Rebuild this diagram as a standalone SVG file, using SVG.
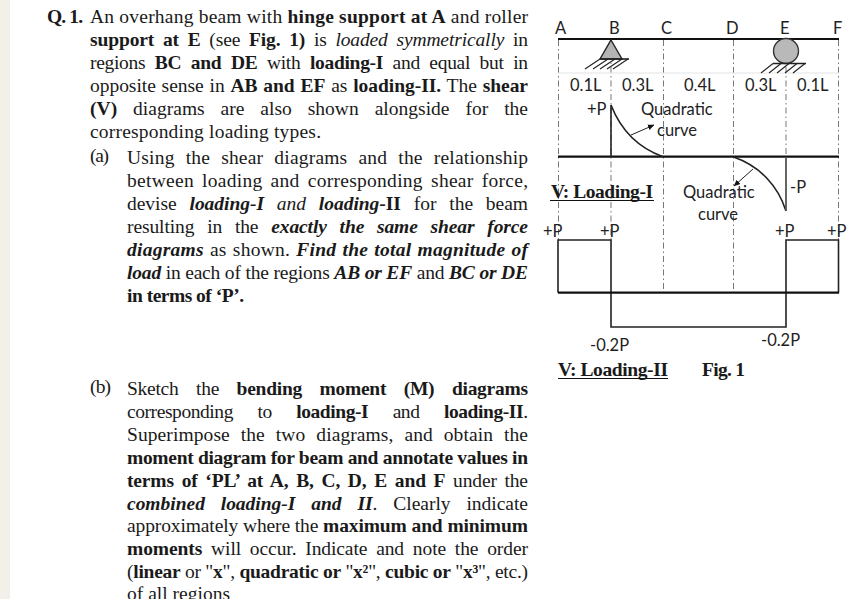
<svg xmlns="http://www.w3.org/2000/svg" width="858" height="599" viewBox="0 0 858 599">
<style>
.t{font-family:"Liberation Serif",serif;font-size:19.5px;fill:#1a1a1a}
.b{font-weight:bold}
.i{font-style:italic}
.s{font-family:Lato,"Liberation Sans",sans-serif;font-size:16.5px;fill:#222}
.h{font-family:"Liberation Serif",serif;font-size:19.5px;font-weight:bold;fill:#1a1a1a}
.guide{fill:none;stroke:#777;stroke-width:1;stroke-dasharray:6 3 1.5 3}
.thick{fill:none;stroke:#111;stroke-width:2.2}
.line{fill:none;stroke:#222;stroke-width:1.6}
.grey{fill:none;stroke:#555;stroke-width:1.8}
.hatch{fill:none;stroke:#222;stroke-width:1.1}
</style>
<defs>
<marker id="ah" viewBox="0 0 8 8" refX="7.5" refY="4" markerWidth="6.5" markerHeight="6.5" orient="auto-start-reverse"><path d="M0 0.5L8 4L0 7.5Z" fill="#111"/></marker>
</defs>
<rect width="858" height="599" fill="#fff"/>
<rect id="margin" width="10" height="599" fill="#f3f0e9"/>

<g id="question-text">
<text class="t b" x="47" y="23" textLength="36">Q. 1.</text>
<text class="t" x="90" y="23" textLength="438">An overhang beam with <tspan class="b">hinge support at A</tspan> and roller</text>
<text class="t" x="90" y="46" textLength="438" word-spacing="4"><tspan class="b">support at E</tspan> (see <tspan class="b">Fig. 1)</tspan> is <tspan class="i">loaded symmetrically</tspan> in</text>
<text class="t" x="90" y="69" textLength="438" word-spacing="5">regions <tspan class="b">BC and DE</tspan> with <tspan class="b">loading-I</tspan> and equal but in</text>
<text class="t" x="90" y="92" textLength="438" word-spacing="1">opposite sense in <tspan class="b">AB and EF</tspan> as <tspan class="b">loading-II.</tspan> The <tspan class="b">shear</tspan></text>
<text class="t" x="90" y="115" textLength="438" word-spacing="11"><tspan class="b">(V)</tspan> diagrams are also shown alongside for the</text>
<text class="t" x="90" y="138" textLength="231">corresponding loading types.</text>
<text class="t" x="90" y="162" textLength="19">(a)</text>
<text class="t" x="127" y="164" textLength="401" word-spacing="6">Using the shear diagrams and the relationship</text>
<text class="t" x="127" y="187" textLength="401" word-spacing="3">between loading and corresponding shear force,</text>
<text class="t" x="127" y="210" textLength="401" word-spacing="8">devise <tspan class="b i">loading-I</tspan> <tspan class="i">and</tspan> <tspan class="b i">loading</tspan><tspan class="b">-II</tspan> for the beam</text>
<text class="t" x="127" y="233" textLength="401" word-spacing="8">resulting in the <tspan class="b i">exactly the same shear force</tspan></text>
<text class="t" x="127" y="256" textLength="401" word-spacing="1"><tspan class="b i">diagrams</tspan> as shown. <tspan class="b i">Find the total magnitude of</tspan></text>
<text class="t" x="127" y="279" textLength="401"><tspan class="b i">load</tspan> in each of the regions <tspan class="b i">AB or EF</tspan> and <tspan class="b i">BC or DE</tspan></text>
<text class="t b" x="127" y="302" textLength="117">in terms of ‘P’.</text>
<text class="t" x="90" y="393" textLength="21">(b)</text>
<text class="t" x="127" y="395" textLength="401" word-spacing="13">Sketch the <tspan class="b">bending moment (M) diagrams</tspan></text>
<text class="t" x="127" y="418" textLength="401" word-spacing="20">corresponding to <tspan class="b">loading-I</tspan> and <tspan class="b">loading-II</tspan>.</text>
<text class="t" x="127" y="441" textLength="401" word-spacing="6">Superimpose the two diagrams, and obtain the</text>
<text class="t b" x="127" y="464" textLength="401">moment diagram for beam and annotate values in</text>
<text class="t" x="127" y="487" textLength="401" word-spacing="3"><tspan class="b">terms of ‘PL’ at A, B, C, D, E and F</tspan> under the</text>
<text class="t" x="127" y="510" textLength="401" word-spacing="11"><tspan class="b i">combined loading-I and II</tspan>. Clearly indicate</text>
<text class="t" x="127" y="532" textLength="401">approximately where the <tspan class="b">maximum and minimum</tspan></text>
<text class="t" x="127" y="555" textLength="401" word-spacing="4"><tspan class="b">moments</tspan> will occur. Indicate and note the order</text>
<text class="t" x="127" y="578" textLength="401">(<tspan class="b">linear</tspan> or "<tspan class="b">x</tspan>", <tspan class="b">quadratic or</tspan> "<tspan class="b">x²</tspan>", <tspan class="b">cubic or</tspan> "<tspan class="b">x³</tspan>", etc.)</text>
<text class="t" x="127" y="600" textLength="103">of all regions</text>
</g>

<g id="connectors">
<path class="guide" d="M558.5 40V240M611 40V240M663.5 40V289M733.5 40V289M786 40V157M838.5 40V240"/>
<path d="M558 73H839" fill="none" stroke="#e4e4e4" stroke-width="1"/>
<path d="M631 135L654 125" fill="none" stroke="#222" stroke-width="1" marker-end="url(#ah)"/>
<path d="M753 169L734 186" fill="none" stroke="#222" stroke-width="1" marker-end="url(#ah)"/>
</g>

<g id="beam">
<path class="thick" d="M558 39H839"/>
</g>

<g id="hinge-support">
<path d="M611 40L622 59H600Z" fill="#b4b4b4" stroke="#222" stroke-width="1.4"/>
<path class="line" d="M600 59H629"/>
<path class="hatch" d="M600 59L585 69M608 59L593 69M615 59L600 69M622 59L607 69M628 59L613 69"/>
</g>

<g id="roller-support">
<circle cx="786" cy="51" r="12.5" fill="#b9b9b9" stroke="#333" stroke-width="1.4"/>
<path class="line" d="M773 63.5H806"/>
<path class="hatch" d="M773 63.5L761 73M781 63.5L769 73M789 63.5L777 73M797 63.5L785 73M805 63.5L793 73"/>
</g>

<g id="beam-labels">
<text class="s" x="555" y="34">A</text>
<text class="s" x="609" y="34">B</text>
<text class="s" x="661" y="34">C</text>
<text class="s" x="726" y="34">D</text>
<text class="s" x="780" y="34">E</text>
<text class="s" x="833" y="34">F</text>
<text class="s" x="570" y="91">0.1L</text>
<text class="s" x="622" y="91">0.3L</text>
<text class="s" x="684" y="91">0.4L</text>
<text class="s" x="745" y="91">0.3L</text>
<text class="s" x="797" y="91">0.1L</text>
</g>

<g id="shear-loading-1">
<path class="thick" d="M558 156.7H839"/>
<path class="line" d="M611 105V157"/>
<path class="line" d="M611 105C620 128 636 147 663 156.7"/>
<path class="line" d="M733.5 157C760 166 778 186 786 211"/>
<path class="grey" d="M786 157V211"/>
<text class="s" x="587" y="115">+P</text>
<text class="s" x="641" y="115">Quadratic</text>
<text class="s" x="657" y="136">curve</text>
<text class="s" x="683" y="198">Quadratic</text>
<text class="s" x="698" y="220">curve</text>
<text class="s" x="790" y="193">-P</text>
<text class="h" x="551" y="198" textLength="102">V: Loading-I</text>
<path d="M550 200.500H654" stroke="#111" stroke-width="1.2"/>
</g>

<g id="shear-loading-2">
<path class="line" d="M558 292.700V240H611V327H786V240H838.500V292.700"/>
<path class="thick" d="M558 292.700H839"/>
<text class="s" x="543" y="237">+P</text>
<text class="s" x="600" y="237">+P</text>
<text class="s" x="775" y="237">+P</text>
<text class="s" x="827" y="237">+P</text>
<text class="s" x="590" y="351">-0.2P</text>
<text class="s" x="761" y="346">-0.2P</text>
<text class="h" x="558" y="376" textLength="110">V: Loading-II</text>
<path d="M558 378.500H668" stroke="#111" stroke-width="1.2"/>
<text class="h" x="702" y="376" textLength="43">Fig. 1</text>
</g>
</svg>
